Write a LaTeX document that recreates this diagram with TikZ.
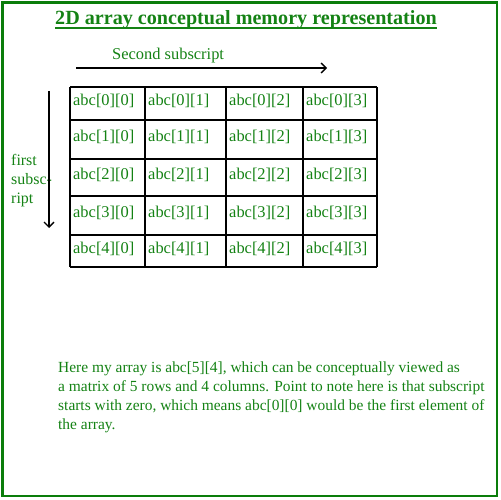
\documentclass[tikz,border=0pt]{standalone}
\usepackage{fontspec}
\setmainfont{Liberation Serif}
\usetikzlibrary{arrows.meta}
\definecolor{gtxt}{RGB}{20,130,20}
\definecolor{gborder}{RGB}{10,125,10}
\tikzset{
  celltext/.style={anchor=mid west,inner sep=0pt,text=gtxt,font=\fontsize{16.5}{18}\selectfont},
  gridline/.style={line width=1.6bp,black},
  arrowline/.style={line width=1.4bp,black,-{Straight Barb[length=5bp,width=10bp]}},
  lbl/.style={inner sep=0pt,text=gtxt,font=\fontsize{16}{19}\selectfont,align=left},
}
\begin{document}
\begin{tikzpicture}[x=1bp,y=-1bp]
\useasboundingbox (0,0) rectangle (500,500);
\draw[gborder,line width=2.5bp] (2.5,2.5) rectangle (497,496);
% title
\node[anchor=base,inner sep=0pt,text=gtxt,font=\fontsize{20.2}{22}\bfseries] (title) at (246,25) {2D array conceptual memory representation};
\draw[gtxt,line width=1.2bp] ([yshift=-3bp]title.base west) -- ([yshift=-3bp]title.base east);
% second subscript
\node[lbl,anchor=base west,font=\fontsize{16.5}{19}\selectfont] (second) at (112,60) {Second subscript};
\coordinate (h1) at (76,68);
\coordinate (h2) at (327,68);
\draw[arrowline] (h1) -- (h2);
% first subscript
\node[lbl,anchor=base west] (first) at (11,203) {first\\subsc-\\ript};
\coordinate (v1) at (49,91);
\coordinate (v2) at (49,228);
\draw[arrowline] (v1) -- (v2);
% grid
\def\xs{{70,145,226,303,377}}
\def\ys{{87,120,159,196,235,267}}
\foreach \c in {0,...,4}{
  \pgfmathsetmacro\xx{\xs[\c]}
  \draw[gridline] (\xx,87) -- (\xx,267);
}
\foreach \r in {0,...,5}{
  \pgfmathsetmacro\yy{\ys[\r]}
  \draw[gridline] (70,\yy) -- (377,\yy);
}
\foreach \r in {0,...,4}{
  \foreach \c in {0,...,3}{
    \pgfmathtruncatemacro\rn{\r+1}
    \pgfmathsetmacro\xx{\xs[\c]+3}
    \pgfmathsetmacro\ya{\ys[\r]}
    \pgfmathsetmacro\yb{\ys[\rn]}
    \pgfmathsetmacro\yy{(\ya+\yb)/2}
    \node[celltext] (cell-\r-\c) at (\xx,\yy) {abc[\r][\c]};
  }
}
% paragraph
\node[lbl,anchor=base west,font=\fontsize{15.5}{19}\selectfont] (para) at (58,429) {Here my array is abc[5][4], which can be conceptually viewed as\\a matrix of 5 rows and 4 columns. Point to note here is that subscript\\starts with zero, which means abc[0][0] would be the first element of\\the array.};
\end{tikzpicture}
\end{document}
